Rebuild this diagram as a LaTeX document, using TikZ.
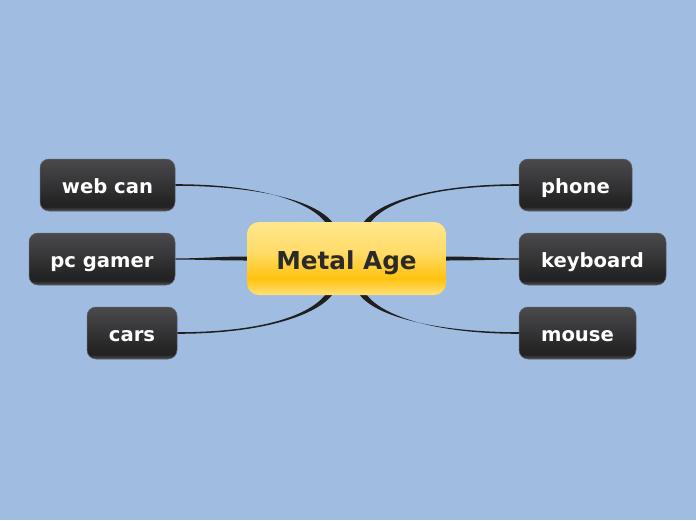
\documentclass[tikz,border=0pt]{standalone}
\usepackage{fontspec}
\setmainfont{DejaVu Sans}
\usetikzlibrary{calc,backgrounds}
\definecolor{bgblue}{HTML}{A0BDE1}
\definecolor{goldB}{HTML}{FFE07C}
\definecolor{goldM}{HTML}{FFC20E}
\definecolor{goldU}{HTML}{FFDC6A}
\definecolor{goldT}{HTML}{FFE78C}
\definecolor{dkB}{HTML}{545458}
\definecolor{dkD}{HTML}{232324}
\definecolor{dkM}{HTML}{38383A}
\definecolor{dkT}{HTML}{4A4A4C}
\definecolor{dkedge}{HTML}{5A5E66}
\definecolor{connc}{HTML}{1F1F20}
\definecolor{ctext}{HTML}{2A2A2A}
\pgfdeclareverticalshading{goldsh}{100bp}{color(0bp)=(goldB); color(25bp)=(goldB); color(36bp)=(goldM); color(55bp)=(goldU); color(75bp)=(goldT); color(100bp)=(goldT)}
\pgfdeclareverticalshading{darksh}{100bp}{color(0bp)=(dkB); color(25bp)=(dkB); color(29bp)=(dkD); color(33bp)=(dkD); color(55bp)=(dkM); color(75bp)=(dkT); color(100bp)=(dkT)}
\newcommand\taper[6]{\fill[conn] ($#1+#5$) .. controls ($#1+#2+#5$) and ($#4+#3+#6$) .. ($#4+#6$) -- ($#4-#6$) .. controls ($#4+#3-#6$) and ($#1+#2-#5$) .. ($#1-#5$) -- cycle;}
\tikzset{
  childbox/.style={rounded corners=9pt, shading=darksh, draw=dkedge, line width=0.5pt, text=white, font=\bfseries\fontsize{19.6}{23}\selectfont, minimum height=52pt, inner sep=0pt, text height=20pt, text depth=4pt},
  centerbox/.style={rounded corners=12pt, shading=goldsh, text=ctext, font=\bfseries\fontsize{24.7}{30}\selectfont, minimum width=199pt, minimum height=73pt, inner sep=0pt, text height=26pt, text depth=5pt},
  conn/.style={fill=connc}
}
\begin{document}
\begin{tikzpicture}[x=1pt,y=-1pt]
\useasboundingbox (0,0) rectangle (696,520);
\node[centerbox] (c) at (346.5,258.5) {Metal Age};
\node[childbox, minimum width=135pt] (wc) at (107.5,185) {web can};
\node[childbox, minimum width=146pt] (pg) at (102,259) {pc gamer};
\node[childbox, minimum width=90pt] (cars) at (132,333) {cars};
\node[childbox, minimum width=113pt] (ph) at (575.5,185) {phone};
\node[childbox, minimum width=147pt] (kb) at (592.5,259) {keyboard};
\node[childbox, minimum width=117pt] (ms) at (577.5,333) {mouse};
\begin{pgfonlayer}{background}
\fill[bgblue] (0,0) rectangle (696,520);
\taper{(wc.east)}{(80,0)}{(-18,-22)}{(c.north)+(-18,0)}{(0,0.8)}{(3.5,0)}
\taper{(pg.east)}{(30,0)}{(-30,0)}{(c.west)}{(0,0.6)}{(0,2)}
\taper{(cars.east)}{(80,0)}{(-18,22)}{(c.south)+(-18,0)}{(0,0.8)}{(3.5,0)}
\taper{(ph.west)}{(-80,0)}{(17,-22)}{(c.north)+(21,0)}{(0,0.8)}{(3.5,0)}
\taper{(kb.west)}{(-30,0)}{(30,0)}{(c.east)}{(0,0.6)}{(0,2)}
\taper{(ms.west)}{(-80,0)}{(17,22)}{(c.south)+(17,0)}{(0,0.8)}{(3.5,0)}
\end{pgfonlayer}
\end{tikzpicture}
\end{document}
